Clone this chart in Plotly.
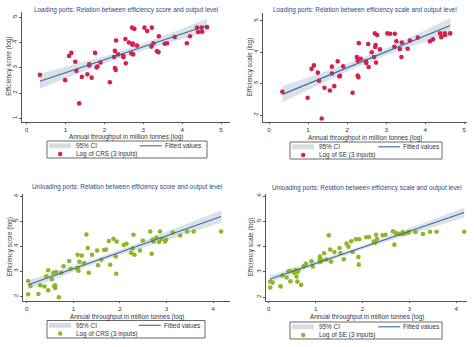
import numpy as np
import plotly.graph_objects as go

W, H = 474, 347

# ---- data: loading ports ----
load_x = [0.34, 0.99, 1.09, 1.15, 1.25, 1.28, 1.42, 1.35, 1.56, 1.61, 1.61, 1.67, 1.76, 1.80,
          1.82, 1.90, 2.14, 2.25, 2.27, 2.27, 2.29, 2.30, 2.35, 2.48, 2.49, 2.54, 2.55, 2.63,
          2.69, 2.71, 2.72, 2.74, 2.73, 2.77, 2.84, 3.03, 3.10, 3.21, 3.22, 3.26, 3.35, 3.40,
          3.39, 3.55, 3.61, 3.81, 4.12, 4.20, 4.38, 4.41, 4.50, 4.51, 4.64]
load_crs = [2.72, 2.51, 3.47, 3.59, 3.24, 2.88, 2.64, 1.59, 2.74, 3.14, 3.09, 2.61, 3.59, 3.01,
            3.05, 3.21, 2.43, 3.43, 3.67, 2.99, 2.91, 4.08, 3.53, 3.49, 3.42, 4.14, 3.18, 4.00,
            3.57, 4.59, 3.91, 3.53, 3.96, 4.54, 3.88, 4.59, 4.46, 3.84, 4.59, 3.97, 3.66, 4.25,
            3.62, 3.95, 3.97, 4.22, 3.97, 4.25, 4.59, 4.42, 4.59, 4.43, 4.61]
load_se = [2.74, 2.55, 3.47, 3.58, 3.35, 3.09, 2.87, 1.89, 2.78, 3.54, 3.32, 2.92, 3.71, 3.23,
           3.25, 3.55, 2.71, 3.85, 3.73, 3.26, 3.20, 4.29, 3.79, 3.71, 3.66, 4.26, 3.53, 4.00,
           3.85, 4.60, 4.17, 3.67, 4.23, 4.55, 4.09, 4.60, 4.59, 4.17, 4.59, 4.35, 4.10, 4.31,
           3.85, 4.11, 4.37, 4.47, 4.35, 4.41, 4.60, 4.48, 4.60, 4.55, 4.60]

# ---- data: unloading ports ----
unload_x = [0.03, 0.08, 0.03, 0.25, 0.29, 0.38, 0.42, 0.46, 0.46, 0.54, 0.57, 0.59, 0.61, 0.61,
            0.63, 0.69, 0.74, 0.79, 0.91, 0.94, 1.09, 1.09, 1.09, 1.11, 1.13, 1.18, 1.23, 1.28,
            1.31, 1.33, 1.40, 1.51, 1.53, 1.60, 1.66, 1.70, 1.76, 1.79, 1.86, 1.91, 1.92, 1.93,
            2.08, 2.14, 2.24, 2.27, 2.29, 2.31, 2.43, 2.49, 2.65, 2.68, 2.70, 2.72, 2.78, 2.84,
            2.86, 2.89, 2.97, 2.99, 3.13, 3.29, 3.44, 3.58, 4.17]
unload_crs = [2.61, 2.41, 2.08, 2.09, 2.44, 2.39, 2.80, 2.24, 3.04, 2.68, 2.94, 2.40, 2.44, 2.33,
              2.97, 1.96, 2.94, 3.20, 3.41, 3.10, 3.66, 3.13, 3.08, 3.02, 3.38, 3.63, 3.33, 4.47,
              3.93, 2.94, 3.66, 3.83, 3.24, 3.46, 3.85, 3.87, 4.21, 3.26, 4.30, 3.59, 2.90, 4.19,
              4.05, 4.10, 3.73, 3.91, 4.46, 3.66, 3.83, 4.23, 4.59, 3.70, 4.27, 4.19, 4.35, 4.17,
              4.59, 4.29, 4.19, 4.27, 4.55, 4.43, 4.59, 4.59, 4.59]
unload_se = [2.62, 2.58, 2.39, 2.43, 2.86, 2.78, 3.03, 2.63, 3.05, 2.97, 3.08, 2.82, 2.62, 3.00,
             3.05, 2.49, 3.22, 3.32, 3.42, 3.22, 3.61, 3.50, 3.39, 3.46, 3.46, 3.74, 3.49, 4.45,
             3.89, 3.41, 3.79, 3.95, 3.75, 3.50, 4.12, 4.00, 4.21, 3.79, 4.29, 3.59, 3.29, 4.29,
             4.37, 4.38, 4.20, 4.16, 4.47, 4.30, 4.45, 4.47, 4.61, 4.08, 4.55, 4.51, 4.51, 4.50,
             4.58, 4.51, 4.55, 4.59, 4.58, 4.50, 4.59, 4.59, 4.59]

RED = "#d5204c"
GREEN = "#8fb625"
LINE = "#3a67a3"
BAND = "rgba(206,216,226,0.75)"
TITLE_C = "#2b4a8c"
FONT = "Liberation Sans, Arial, sans-serif"
FS = 6.4

panels = [
    dict(title="Loading ports: Relation between efficiency score and output level",
         ytitle="Efficiency score (log)", x=load_x, y=load_crs, color=RED,
         mlabel="Log of CRS (3 inputs)",
         dom_x=(22, 230), dom_y=(12, 121.5), xr=(-0.12, 5.23), yr=(0.873, 5.21),
         xt=[0, 1, 2, 3, 4, 5], yt=[1, 2, 3, 4, 5], title_y=9.5, xtitle_y=137.5, ytitle_x=9,
         leg=(47, 207, 141, 158)),
    dict(title="Loading ports: Relation between efficiency scale and output level",
         ytitle="Efficiency scale (log)", x=load_x, y=load_se, color=RED,
         mlabel="Log of SE (3 inputs)",
         dom_x=(263, 467), dom_y=(13, 121.5), xr=(-0.154, 5.07), yr=(1.793, 5.25),
         xt=[0, 1, 2, 3, 4, 5], yt=[2, 3, 4, 5], title_y=9.5, xtitle_y=138, ytitle_x=250,
         leg=(290, 442, 142, 159)),
    dict(title="Unloading ports: Relation between efficiency score and output level",
         ytitle="Efficiency score (log)", x=unload_x, y=unload_crs, color=GREEN,
         mlabel="Log of CRS (3 inputs)",
         dom_x=(23, 230), dom_y=(194, 300.5), xr=(-0.08, 4.36), yr=(1.833, 6.09),
         xt=[0, 1, 2, 3, 4], yt=[2, 3, 4, 5, 6], title_y=187, xtitle_y=316.5, ytitle_x=10,
         leg=(47, 205, 320.5, 338)),
    dict(title="Unloading ports: Relation between efficiency scale and output level",
         ytitle="Efficiency scale (log)", x=unload_x, y=unload_se, color=GREEN,
         mlabel="Log of SE (3 inputs)",
         dom_x=(266, 467), dom_y=(194, 300.5), xr=(-0.06, 4.23), yr=(1.874, 6.08),
         xt=[0, 1, 2, 3, 4], yt=[2, 3, 4, 5, 6], title_y=188, xtitle_y=316.5, ytitle_x=251,
         leg=(290, 442, 322, 339)),
]


def px(x):
    return x / W


def py(y):
    return 1 - y / H


def ols_fit(x, y, grid):
    """Least-squares line with a 95% confidence band for the mean."""
    x = np.asarray(x, float)
    y = np.asarray(y, float)
    n = len(x)
    b, a = np.polyfit(x, y, 1)
    resid = y - (a + b * x)
    s = np.sqrt(np.sum(resid ** 2) / (n - 2))
    sxx = np.sum((x - x.mean()) ** 2)
    fit = a + b * grid
    se = s * np.sqrt(1.0 / n + (grid - x.mean()) ** 2 / sxx)
    t = 2.008 if n < 60 else 1.999
    return fit, fit - t * se, fit + t * se


fig = go.Figure()
shapes = []
annotations = []

for i, p in enumerate(panels, start=1):
    xa = f"x{i}" if i > 1 else "x"
    ya = f"y{i}" if i > 1 else "y"
    grid = np.linspace(min(p["x"]), max(p["x"]), 60)
    fit, lo, hi = ols_fit(p["x"], p["y"], grid)

    # confidence band
    fig.add_trace(go.Scatter(x=np.concatenate([grid, grid[::-1]]),
                             y=np.concatenate([hi, lo[::-1]]),
                             fill="toself", fillcolor=BAND, line=dict(width=0),
                             mode="lines", hoverinfo="skip", showlegend=False,
                             xaxis=xa, yaxis=ya))
    # observations
    fig.add_trace(go.Scatter(x=p["x"], y=p["y"], mode="markers",
                             marker=dict(color=p["color"], size=4.6, line=dict(width=0)),
                             showlegend=False, xaxis=xa, yaxis=ya))
    # fitted line
    fig.add_trace(go.Scatter(x=grid, y=fit, mode="lines",
                             line=dict(color=LINE, width=1.1),
                             showlegend=False, xaxis=xa, yaxis=ya))

    axis_common = dict(showgrid=False, zeroline=False, showline=True, linecolor="#555",
                       linewidth=0.8, ticks="outside", ticklen=2, tickcolor="#555",
                       tickwidth=0.8, tickfont=dict(size=6.2, color="#333", family=FONT))
    xkey = "xaxis" if i == 1 else f"xaxis{i}"
    ykey = "yaxis" if i == 1 else f"yaxis{i}"
    fig.layout[xkey] = dict(domain=[px(p["dom_x"][0]), px(p["dom_x"][1])],
                            range=list(p["xr"]), tickvals=p["xt"], anchor=ya,
                            **axis_common)
    fig.layout[ykey] = dict(domain=[py(p["dom_y"][1]), py(p["dom_y"][0])],
                            range=list(p["yr"]), tickvals=p["yt"], anchor=xa,
                            tickangle=-90, **axis_common)

    cx = (p["dom_x"][0] + p["dom_x"][1]) / 2
    annotations.append(dict(text=p["title"], x=px(cx), y=py(p["title_y"]), xref="paper",
                            yref="paper", showarrow=False, xanchor="center", yanchor="middle",
                            font=dict(size=FS, color=TITLE_C, family=FONT)))
    annotations.append(dict(text="Annual throughput in million tonnes (log)", x=px(cx),
                            y=py(p["xtitle_y"]), xref="paper", yref="paper", showarrow=False,
                            xanchor="center", yanchor="middle",
                            font=dict(size=FS, color="#333", family=FONT)))
    cy = (p["dom_y"][0] + p["dom_y"][1]) / 2
    annotations.append(dict(text=p["ytitle"], x=px(p["ytitle_x"]), y=py(cy), xref="paper",
                            yref="paper", showarrow=False, textangle=-90, xanchor="center",
                            yanchor="middle", font=dict(size=FS, color="#333", family=FONT)))

    # legend box drawn below each panel
    l, r, t, b = p["leg"]
    shapes.append(dict(type="rect", xref="paper", yref="paper", x0=px(l), x1=px(r),
                       y0=py(b), y1=py(t), line=dict(color="#444", width=0.8),
                       fillcolor="white"))
    row1 = t + 4.8
    row2 = t + 13
    shapes.append(dict(type="rect", xref="paper", yref="paper", x0=px(l + 2), x1=px(l + 24),
                       y0=py(row1 + 2.5), y1=py(row1 - 2.5), line=dict(width=0),
                       fillcolor="#d8dde3"))
    lx0 = l + 0.58 * (r - l)
    shapes.append(dict(type="line", xref="paper", yref="paper", x0=px(lx0), x1=px(lx0 + 22),
                       y0=py(row1), y1=py(row1), line=dict(color=LINE, width=1.1)))
    shapes.append(dict(type="circle", xref="paper", yref="paper", x0=px(l + 11), x1=px(l + 15.4),
                       y0=py(row2 + 2.2), y1=py(row2 - 2.2), line=dict(width=0),
                       fillcolor=p["color"]))
    for txt, tx, ty in [("95% CI", l + 27, row1), ("Fitted values", lx0 + 23, row1),
                        (p["mlabel"], l + 27, row2)]:
        annotations.append(dict(text=txt, x=px(tx), y=py(ty), xref="paper", yref="paper",
                                showarrow=False, xanchor="left", yanchor="middle",
                                font=dict(size=FS, color="#333", family=FONT)))

fig.update_layout(width=W, height=H, margin=dict(l=0, r=0, t=0, b=0),
                  paper_bgcolor="white", plot_bgcolor="white", showlegend=False,
                  shapes=shapes, annotations=annotations)

fig.write_html("out.html", config={"displayModeBar": False})
